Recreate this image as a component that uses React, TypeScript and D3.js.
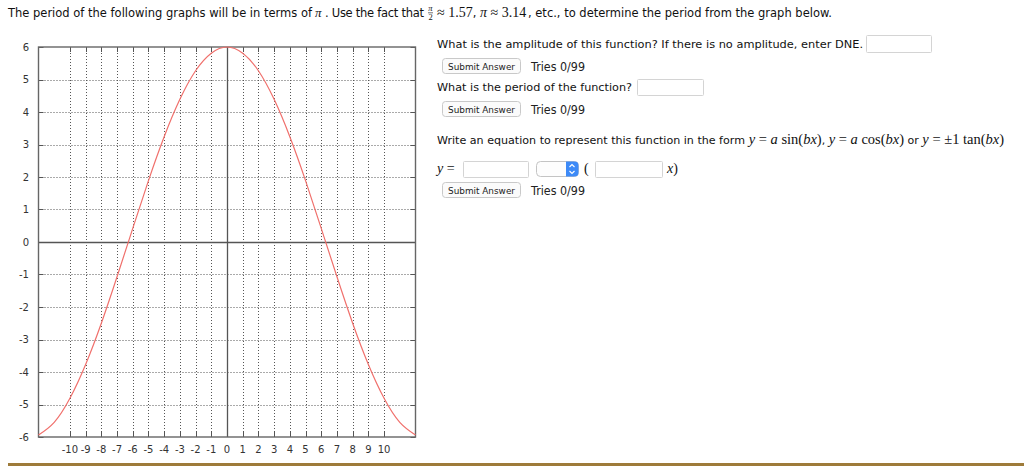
import React from "react";
import * as d3 from "d3";

const X_TICKS = [-10, -9, -8, -7, -6, -5, -4, -3, -2, -1, 0, 1, 2, 3, 4, 5, 6, 7, 8, 9, 10];
const Y_TICKS = [-6, -5, -4, -3, -2, -1, 0, 1, 2, 3, 4, 5, 6];
const CURVE_X = [-12, -11, -10, -9, -8, -7, -6, -5, -4, -3, -2, -1, 0, 1, 2, 3, 4, 5, 6, 7, 8, 9, 10, 11, 12];
const CURVE_Y = [-5.94, -5.55, -4.81, -3.77, -2.5, -1.07, 0.42, 1.89, 3.24, 4.39, 5.27, 5.81, 6.0, 5.81, 5.27, 4.39, 3.24, 1.89, 0.42, -1.07, -2.5, -3.77, -4.81, -5.55, -5.94];

const SANS = "DejaVu Sans, Verdana, sans-serif";
const SERIF = "Liberation Serif, Times New Roman, serif";

function Button({ y }: { y: number }) {
  return (
    <g>
      <rect x={442.5} y={y + 0.5} width={78} height={15} rx={3} fill="#fbfbfb" stroke="#c9c9c9" />
      <text x={481.5} y={y + 11.5} fontFamily={SANS} fontSize={9.5} fill="#222" textAnchor="middle" textLength={67} lengthAdjust="spacingAndGlyphs">
        Submit Answer
      </text>
      <text x={531} y={y + 12.5} fontFamily={SANS} fontSize={11.5} fill="#222" textLength={54} lengthAdjust="spacingAndGlyphs">
        Tries 0/99
      </text>
    </g>
  );
}

function Input({ x, y, w, h }: { x: number; y: number; w: number; h: number }) {
  return <rect x={x + 0.5} y={y + 0.5} width={w} height={h} fill="#fff" stroke="#d4d4d4" rx={1} />;
}

export default function App() {
  const x = d3.scaleLinear().domain([-12, 12]).range([38.5, 415.5]);
  const y = d3.scaleLinear().domain([-6, 6]).range([437, 47]);
  const pts = CURVE_X.map((v, i) => [v, CURVE_Y[i]] as [number, number]);
  const line = d3
    .line<[number, number]>()
    .x((d) => x(d[0]))
    .y((d) => y(d[1]))
    .curve(d3.curveNatural);

  const top = y(6);
  const bottom = y(-6);
  const left = x(-12);
  const right = x(12);
  const HS = 11.5;

  return (
    <svg width={1024} height={466} style={{ position: "absolute", left: 0, top: 0 }} xmlns="http://www.w3.org/2000/svg">
      <rect width={1024} height={466} fill="#fff" />
      {/* Header */}
      <text x={8} y={17} fontFamily={SANS} fontSize={HS} fill="#111" textLength={304}>
        The period of the following graphs will be in terms of
      </text>
      <text x={315} y={17} fontFamily={SERIF} fontSize={13} fontStyle="italic" fill="#111">π</text>
      <text x={325} y={17} fontFamily={SANS} fontSize={HS} fill="#111" textLength={99}>
        . Use the fact that
      </text>
      <text x={430.5} y={11} fontFamily={SERIF} fontSize={8.5} fontStyle="italic" fill="#111" textAnchor="middle">π</text>
      <line x1={428} x2={433} y1={12.8} y2={12.8} stroke="#111" strokeWidth={0.6} />
      <text x={430.5} y={19.5} fontFamily={SERIF} fontSize={8.5} fill="#111" textAnchor="middle">2</text>
      <text x={437} y={17} fontFamily={SERIF} fontSize={14} fill="#111">
        ≈ 1.57<tspan fontFamily={SANS} fontSize={HS}>, </tspan>
        <tspan fontStyle="italic">π</tspan> ≈ 3.14
      </text>
      <text x={528} y={17} fontFamily={SANS} fontSize={HS} fill="#111" textLength={304}>
        , etc., to determine the period from the graph below.
      </text>

      {/* Grid */}
      <g>
        {Y_TICKS.filter((t) => t !== 0 && t !== 6 && t !== -6).map((t) => (
          <line key={"hy" + t} x1={left} x2={right} y1={Math.round(y(t)) + 0.5} y2={Math.round(y(t)) + 0.5} stroke="#555" strokeDasharray="1,2" />
        ))}
        {X_TICKS.filter((t) => t !== 0).map((t) => (
          <line key={"vx" + t} x1={Math.round(x(t)) + 0.5} x2={Math.round(x(t)) + 0.5} y1={top} y2={bottom} stroke="#555" strokeDasharray="1,2" />
        ))}
        {X_TICKS.map((t) => (
          <g key={"tx" + t}>
            <line x1={Math.round(x(t)) + 0.5} x2={Math.round(x(t)) + 0.5} y1={top} y2={top + 5} stroke="#555" />
            <line x1={Math.round(x(t)) + 0.5} x2={Math.round(x(t)) + 0.5} y1={bottom - 5} y2={bottom} stroke="#555" />
          </g>
        ))}
        {Y_TICKS.map((t) => (
          <g key={"ty" + t}>
            <line x1={left} x2={left + 5} y1={Math.round(y(t)) + 0.5} y2={Math.round(y(t)) + 0.5} stroke="#555" />
            <line x1={right - 5} x2={right} y1={Math.round(y(t)) + 0.5} y2={Math.round(y(t)) + 0.5} stroke="#555" />
          </g>
        ))}
        {/* axes */}
        <line x1={left} x2={right} y1={Math.round(y(0)) + 0.5} y2={Math.round(y(0)) + 0.5} stroke="#555" strokeWidth={1.3} />
        <line x1={Math.round(x(0)) + 0.5} x2={Math.round(x(0)) + 0.5} y1={top} y2={bottom} stroke="#555" strokeWidth={1.3} />
        {/* frame */}
        <rect x={left} y={top} width={right - left} height={bottom - top} fill="none" stroke="#666" strokeWidth={1.4} />
      </g>

      {/* Curve */}
      <path d={line(pts) || ""} fill="none" stroke="#f0706c" strokeWidth={1.2} />

      {/* Axis labels */}
      {Y_TICKS.map((t) => (
        <text key={"ly" + t} x={29} y={y(t) + 3.8} fontFamily={SANS} fontSize={10} fill="#333" textAnchor="end">
          {t}
        </text>
      ))}
      {X_TICKS.map((t) => (
        <text key={"lx" + t} x={x(t)} y={453} fontFamily={SANS} fontSize={10} fill="#333" textAnchor="middle">
          {t}
        </text>
      ))}

      {/* Bottom bar */}
      <rect x={8} y={463} width={1016} height={3} fill="#9e7b3a" />

      {/* Right column */}
      <text x={437} y={48} fontFamily={SANS} fontSize={11} fill="#111" textLength={426} lengthAdjust="spacingAndGlyphs">
        What is the amplitude of this function? If there is no amplitude, enter DNE.
      </text>
      <Input x={866} y={35} w={65} h={17} />
      <Button y={58} />

      <text x={437} y={91} fontFamily={SANS} fontSize={11} fill="#111" textLength={195} lengthAdjust="spacingAndGlyphs">
        What is the period of the function?
      </text>
      <Input x={637} y={79} w={66} h={16} />
      <Button y={101} />

      <text x={437} y={144} fontFamily={SANS} fontSize={11} fill="#111">
        <tspan textLength={308} lengthAdjust="spacingAndGlyphs">Write an equation to represent this function in the form</tspan>
        <tspan fontFamily={SERIF} fontSize={14.5}>
          {" "}
          <tspan fontStyle="italic">y</tspan> = <tspan fontStyle="italic">a</tspan> sin(<tspan fontStyle="italic">bx</tspan>)
        </tspan>
        <tspan>, </tspan>
        <tspan fontFamily={SERIF} fontSize={14.5}>
          <tspan fontStyle="italic">y</tspan> = <tspan fontStyle="italic">a</tspan> cos(<tspan fontStyle="italic">bx</tspan>)
        </tspan>
        <tspan> or </tspan>
        <tspan fontFamily={SERIF} fontSize={14.5}>
          <tspan fontStyle="italic">y</tspan> = ±1 tan(<tspan fontStyle="italic">bx</tspan>)
        </tspan>
      </text>

      <text x={437} y={173} fontFamily={SERIF} fontSize={14} fill="#111">
        <tspan fontStyle="italic">y</tspan> =
      </text>
      <Input x={463} y={161} w={65} h={16} />
      {/* select */}
      <g>
        <rect x={536.5} y={161.5} width={42} height={15} rx={4} fill="#fdfdfd" stroke="#c4c4c4" />
        <path d="M566,161.5 h8.5 a4,4 0 0 1 4,4 v7 a4,4 0 0 1 -4,4 h-8.5 z" fill="#3d8af7" />
        <path d="M569.5,167 l2.5,-2.5 l2.5,2.5" fill="none" stroke="#fff" strokeWidth={1.1} />
        <path d="M569.5,171 l2.5,2.5 l2.5,-2.5" fill="none" stroke="#fff" strokeWidth={1.1} />
      </g>
      <text x={584} y={173} fontFamily={SERIF} fontSize={14} fill="#111">(</text>
      <Input x={595} y={161} w={67} h={16} />
      <text x={667} y={173} fontFamily={SERIF} fontSize={14} fill="#111">
        <tspan fontStyle="italic">x</tspan>)
      </text>
      <Button y={182} />
    </svg>
  );
}
